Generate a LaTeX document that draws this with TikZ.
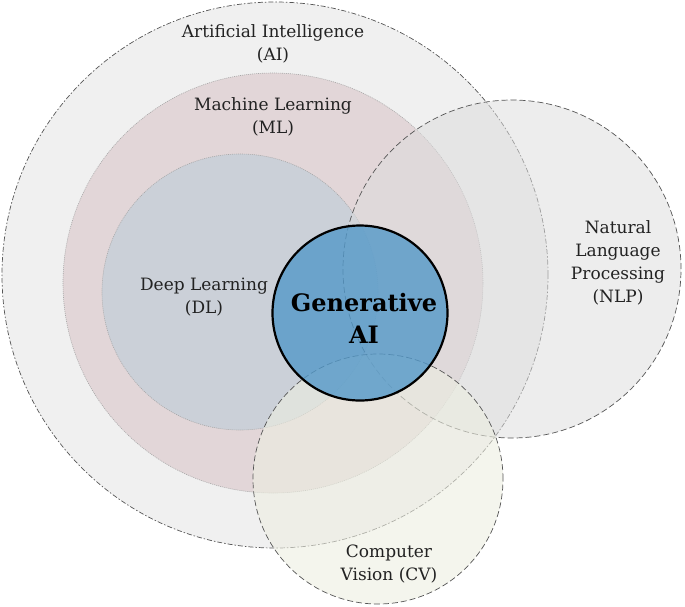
\documentclass[tikz,border=0pt]{standalone}
\usepackage{fontspec}
\setmainfont{DejaVu Serif}
\definecolor{aiFill}{HTML}{F0F0F0}
\definecolor{mlFill}{HTML}{E2D6D8}
\definecolor{dlFill}{HTML}{CBD0D8}
\definecolor{nlpFill}{HTML}{DDDDDD}
\definecolor{cvFill}{HTML}{EDEEE1}
\definecolor{genFill}{HTML}{5398C8}
\definecolor{edgeDark}{HTML}{555555}
\definecolor{edgeLight}{HTML}{A8A8A8}
\definecolor{txt}{HTML}{222222}
\begin{document}
\begin{tikzpicture}[x=1pt,y=-1pt,
  venn/.style={circle, inner sep=0pt, outer sep=0pt},
  aiC/.style={venn, fill=aiFill, draw=edgeDark, line width=0.7pt, dash pattern=on 5pt off 2pt on 1.5pt off 2pt},
  mlC/.style={venn, fill=mlFill, draw=edgeLight, line width=0.6pt, dash pattern=on 1pt off 1pt},
  dlC/.style={venn, fill=dlFill, draw=edgeLight, line width=0.6pt, dash pattern=on 1pt off 1pt},
  nlpC/.style={venn, fill=nlpFill, fill opacity=0.53, draw=edgeDark, draw opacity=1, line width=0.7pt, dash pattern=on 6pt off 3pt},
  cvC/.style={venn, fill=cvFill, fill opacity=0.6, draw=edgeDark, draw opacity=1, line width=0.7pt, dash pattern=on 6pt off 3pt},
  genC/.style={venn, fill=genFill, fill opacity=0.8, draw=black, draw opacity=1, line width=2.2pt},
  lbl/.style={align=center, inner sep=0pt, text=txt, font=\fontsize{17}{23}\selectfont},
  biglbl/.style={align=center, inner sep=0pt, text=black, font=\bfseries\fontsize{24}{32}\selectfont}
]
\useasboundingbox (0,0) rectangle (685,606);
\node[aiC, minimum size=546pt] (ai) at (275,275) {};
\node[mlC, minimum size=420pt] (ml) at (273,283) {};
\node[dlC, minimum size=276pt] (dl) at (240,292) {};
\node[nlpC, minimum size=338pt] (nlp) at (512,269) {};
\node[cvC, minimum size=250pt] (cv) at (378,479) {};
\node[genC, minimum size=175pt] (gen) at (360,313) {};

\node[lbl] (ailbl) at (273,44) {Artificial Intelligence\\(AI)};
\node[lbl] (mllbl) at (273,117) {Machine Learning\\(ML)};
\node[lbl] (dllbl) at (204,297) {Deep Learning\\(DL)};
\node[lbl] (nlplbl) at (618,263) {Natural\\Language\\Processing\\(NLP)};
\node[lbl] (cvlbl) at (389,564) {Computer\\Vision (CV)};
\node[biglbl] (genlbl) at (364,318) {Generative\\AI};
\end{tikzpicture}
\end{document}
